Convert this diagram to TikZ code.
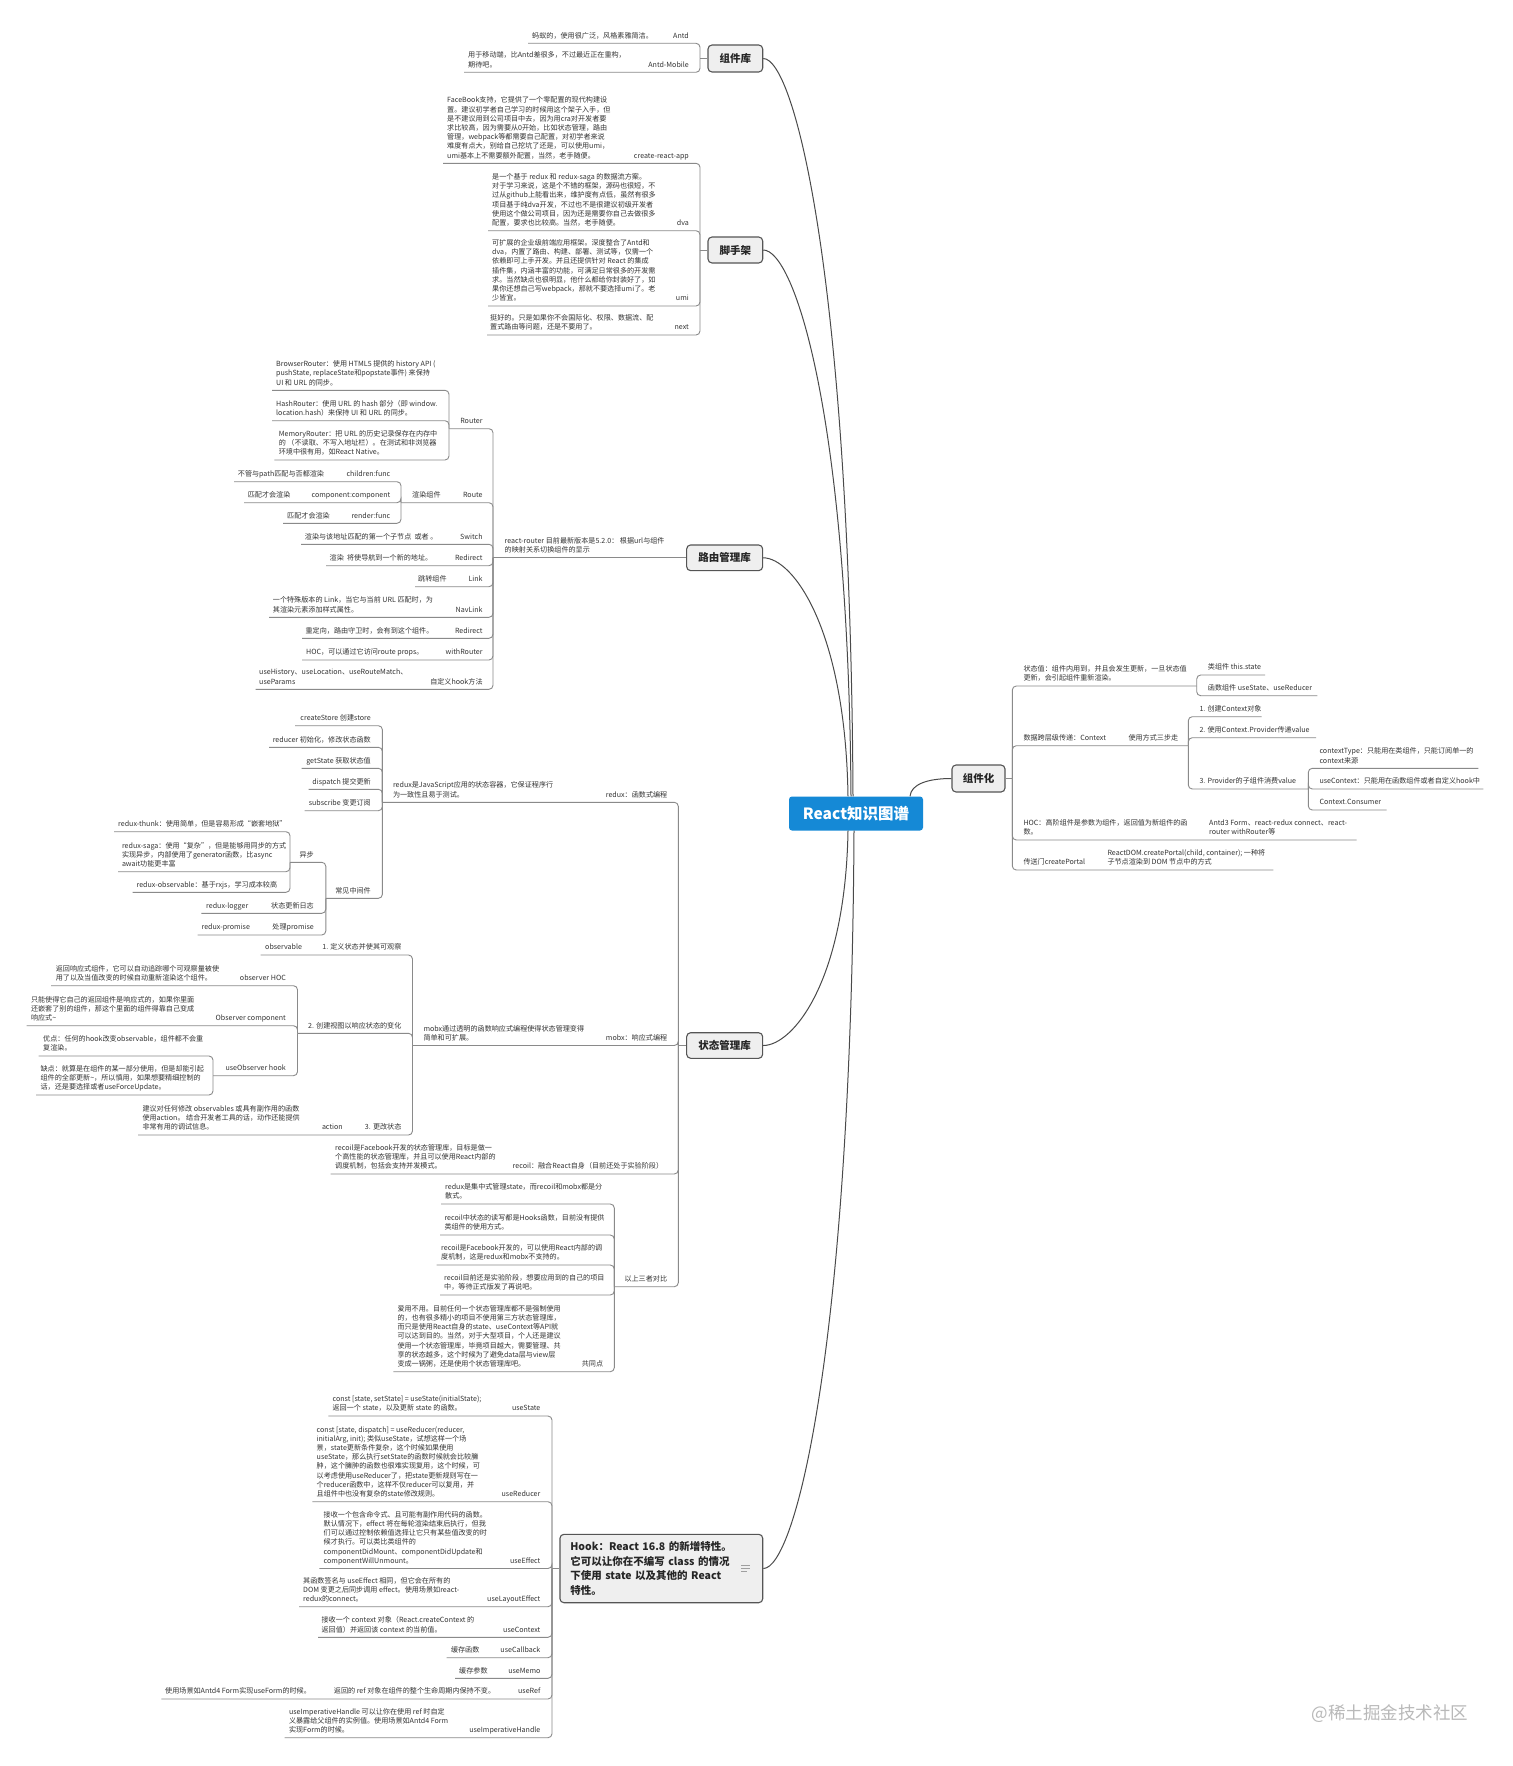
\documentclass[tikz,border=0pt]{standalone}
\usepackage{fontspec}
\setmainfont{Noto Sans CJK SC}
\definecolor{txt}{HTML}{333333}
\definecolor{ln}{HTML}{8A8A8A}
\definecolor{crv}{HTML}{4A4A4A}
\definecolor{boxfill}{HTML}{EFEFEF}
\definecolor{boxdraw}{HTML}{555555}
\definecolor{rootblue}{HTML}{1589D6}
\newcommand\mmkid[3]{\coordinate (#1) at (#2);\draw[conn] (#1) -| (#3);}
\begin{document}
\begin{tikzpicture}[x=1pt,y=-1pt,
 conn/.style={draw=ln, line width=0.9pt, rounded corners=4pt},
 curv/.style={draw=crv, line width=1pt},
 txtn/.style={inner xsep=0pt, inner ysep=2.3pt, text=txt, font=\fontsize{7.1pt}{9.2pt}\selectfont, align=left, execute at begin node=\strut, execute at end node=\strut},
 dl/.style={txtn, anchor=south west},
 dr/.style={txtn, anchor=south east},
 brbox/.style={draw=boxdraw, fill=boxfill, line width=1.1pt, rounded corners=4pt, font=\fontsize{10.5pt}{12pt}\selectfont\bfseries, text=black!85, inner sep=0pt},
]
\fill[white] (0,0) rectangle (1512,1766);
\useasboundingbox (0,0) rectangle (1512,1766);

% root and branch boxes
\node[fill=rootblue, rounded corners=3pt, minimum width=134pt, minimum height=34pt, inner sep=0pt, text=white, font=\fontsize{15.5pt}{18pt}\selectfont\bfseries] (root) at (856,813.5) {React知识图谱};
\node[brbox, minimum width=54.7pt, minimum height=27pt] (zjk) at (735.35,58.5) {组件库};
\node[brbox, minimum width=54.7pt, minimum height=26pt] (jsj) at (735.35,250) {脚手架};
\node[brbox, minimum width=76pt, minimum height=25.7pt] (lyg) at (724.65,557.8) {路由管理库};
\node[brbox, minimum width=76pt, minimum height=25.6pt] (ztg) at (724.65,1045.5) {状态管理库};
\node[brbox, minimum width=53pt, minimum height=27pt] (zjh) at (978.5,778.5) {组件化};
\node[brbox, text width=182pt, inner xsep=10.4pt, minimum height=68.4pt, align=left, font=\fontsize{10.5pt}{14.4pt}\selectfont\bfseries] (hook) at (661.35,1568.5) {Hook：React 16.8 的新增特性。\\它可以让你在不编写 class 的情况\\下使用 state 以及其他的 React\\特性。};
\draw[gray!75, line width=0.8pt] (741,1565.3) -- (750,1565.3) (741,1568.5) -- (750,1568.5) (741,1571.7) -- (747,1571.7);

% main curves
\draw[curv] ([xshift=-3pt]root.north) .. controls +(-2.7,-516.6) and +(31.6,0) .. (zjk.east);
\draw[curv] ([xshift=-5pt]root.north) .. controls +(-2.6,-382.6) and +(30.9,0) .. (jsj.east);
\draw[curv] ([xshift=-8pt]root.north) .. controls +(-2.6,-167.1) and +(29.9,0) .. (lyg.east);
\draw[curv] ([xshift=-8pt]root.south) .. controls +(-2.6,150.5) and +(29.8,0) .. (ztg.east);
\draw[curv] ([xshift=-2pt]root.south) .. controls +(-2.7,516.6) and +(32,0) .. (hook.east);
\draw[curv] ([xshift=54pt]root.north) .. controls +(1,-12) and +(-24,0) .. (zjh.west);

% ---------- 组件库 ----------
\coordinate (JA) at (700,58.5);
\draw[conn] (JA) -- (zjk.west);
\mmkid{a1}{528,43.3}{JA}
\mmkid{a2}{464,72.3}{JA}
\node[dl] (a1d) at (532,43.3) {蚂蚁的，使用很广泛，风格素雅简洁。};
\node[dr] (a1l) at (689,43.3) {Antd};
\node[dl] (a2d) at (468,72.3) {用于移动端，比Antd差很多，不过最近正在重构，\\期待吧。};
\node[dr] (a2l) at (689,72.3) {Antd-Mobile};

% ---------- 脚手架 ----------
\coordinate (JB) at (700,250);
\draw[conn] (JB) -- (jsj.west);
\mmkid{b1}{443,163.3}{JB}
\mmkid{b2}{488,230.7}{JB}
\mmkid{b3}{488,306}{JB}
\mmkid{b4}{487,335}{JB}
\node[dl] (b1d) at (447,163.3) {FaceBook支持，它提供了一个零配置的现代构建设\\置。建议初学者自己学习的时候用这个架子入手，但\\是不建议用到公司项目中去，因为用cra对开发者要\\求比较高，因为需要从0开始，比如状态管理，路由\\管理，webpack等都需要自己配置，对初学者来说\\难度有点大，别给自己挖坑了还是，可以使用umi，\\umi基本上不需要额外配置，当然，老手随便。};
\node[dr] (b1l) at (689,163.3) {create-react-app};
\node[dl] (b2d) at (492,230.7) {是一个基于 redux 和 redux-saga 的数据流方案。\\对于学习来说，这是个不错的框架，源码也很短，不\\过从github上能看出来，维护度有点低，虽然有很多\\项目基于纯dva开发，不过也不是很建议初级开发者\\使用这个做公司项目，因为还是需要你自己去做很多\\配置，要求也比较高。当然，老手随便。};
\node[dr] (b2l) at (689,230.7) {dva};
\node[dl] (b3d) at (492,306) {可扩展的企业级前端应用框架。深度整合了Antd和\\dva，内置了路由、构建、部署、测试等，仅需一个\\依赖即可上手开发。并且还提供针对 React 的集成\\插件集，内涵丰富的功能，可满足日常很多的开发需\\求。当然缺点也很明显，他什么都给你封装好了，如\\果你还想自己写webpack，那就不要选择umi了。老\\少皆宜。};
\node[dr] (b3l) at (689,306) {umi};
\node[dl] (b4d) at (490,335) {挺好的。只是如果你不会国际化、权限、数据流、配\\置式路由等问题，还是不要用了。};
\node[dr] (b4l) at (689,335) {next};

% ---------- 路由管理库 ----------
\coordinate (c0) at (493,557.8);
\draw[conn] (c0) -- (lyg.west);
\node[dl] (c0d) at (504.5,557.8) {react-router 目前最新版本是5.2.0： 根据url与组件\\的映射关系切换组件的显示};
\mmkid{c1}{449,428.7}{c0}
\mmkid{c2}{401,502.7}{c0}
\mmkid{c3}{301,544.3}{c0}
\mmkid{c4}{326,565.7}{c0}
\mmkid{c5}{415,586.7}{c0}
\mmkid{c6}{269,617.3}{c0}
\mmkid{c7}{302,638.3}{c0}
\mmkid{c8}{302,660}{c0}
\mmkid{c9}{255.5,689.3}{c0}
\mmkid{c1a}{272,390.3}{c1}
\mmkid{c1b}{272,420.7}{c1}
\mmkid{c1c}{274.4,460}{c1}
\mmkid{c2a}{234,481.7}{c2}
\mmkid{c2b}{244,502.7}{c2}
\mmkid{c2c}{283,523.3}{c2}
\node[dr] (c1l) at (482.8,428.7) {Router};
\node[dl] (c1ad) at (276,390.3) {BrowserRouter：使用 HTML5 提供的 history API (\\pushState, replaceState和popstate事件) 来保持\\UI 和 URL 的同步。};
\node[dl] (c1bd) at (276,420.7) {HashRouter：使用 URL 的 hash 部分（即 window.\\location.hash）来保持 UI 和 URL 的同步。};
\node[dl] (c1cd) at (278.6,460) {MemoryRouter：把 URL 的历史记录保存在内存中\\的 （不读取、不写入地址栏）。在测试和非浏览器\\环境中很有用，如React Native。};
\node[dl] (c2d) at (412,502.7) {渲染组件};
\node[dr] (c2l) at (482.8,502.7) {Route};
\node[dl] (c2ad) at (237.7,481.7) {不管与path匹配与否都渲染};
\node[dr] (c2al) at (390.5,481.7) {children:func};
\node[dl] (c2bd) at (247.6,502.7) {匹配才会渲染};
\node[dr] (c2bl) at (390.5,502.7) {component:component};
\node[dl] (c2cd) at (287,523.3) {匹配才会渲染};
\node[dr] (c2cl) at (390.5,523.3) {render:func};
\node[dl] (c3d) at (304.7,544.3) {渲染与该地址匹配的第一个子节点 \ 或者 。};
\node[dr] (c3l) at (482.8,544.3) {Switch};
\node[dl] (c4d) at (329.5,565.7) {渲染 \ 将使导航到一个新的地址。};
\node[dr] (c4l) at (482.8,565.7) {Redirect};
\node[dl] (c5d) at (418,586.7) {跳转组件};
\node[dr] (c5l) at (482.8,586.7) {Link};
\node[dl] (c6d) at (272.7,617.3) {一个特殊版本的 Link，当它与当前 URL 匹配时，为\\其渲染元素添加样式属性。};
\node[dr] (c6l) at (482.8,617.3) {NavLink};
\node[dl] (c7d) at (305.4,638.3) {重定向，路由守卫时，会有到这个组件。};
\node[dr] (c7l) at (482.8,638.3) {Redirect};
\node[dl] (c8d) at (306,660) {HOC，可以通过它访问route props。};
\node[dr] (c8l) at (482.8,660) {withRouter};
\node[dl] (c9d) at (259,689.3) {useHistory、useLocation、useRouteMatch、\\useParams};
\node[dr] (c9l) at (482.8,689.3) {自定义hook方法};

% ---------- 状态管理库 ----------
\coordinate (JD) at (678.3,1045.5);
\draw[conn] (JD) -- (ztg.west);
\mmkid{d1}{382.4,802.3}{JD}
\mmkid{d2}{412.5,1045.5}{JD}
\mmkid{d3}{330.7,1174}{JD}
\mmkid{d4}{614.3,1286.7}{JD}
\node[dl] (d1d) at (392.8,802.3) {redux是JavaScript应用的状态容器，它保证程序行\\为一致性且易于测试。};
\node[dr] (d1l) at (667.5,802.3) {redux：函数式编程};
\mmkid{d1a}{295,725.7}{d1}
\mmkid{d1b}{269,747.3}{d1}
\mmkid{d1c}{301.7,768.3}{d1}
\mmkid{d1d}{308.6,789.3}{d1}
\mmkid{d1e}{304.7,810.7}{d1}
\mmkid{d1f}{325.8,898.3}{d1}
\node[dr] (d1al) at (371,725.7) {createStore 创建store};
\node[dr] (d1bl) at (371,747.3) {reducer 初始化，修改状态函数};
\node[dr] (d1cl) at (371,768.3) {getState 获取状态值};
\node[dr] (d1dl) at (371,789.3) {dispatch 提交更新};
\node[dr] (d1el) at (371,810.7) {subscribe 变更订阅};
\node[dr] (d1fl) at (371,898.3) {常见中间件};
\mmkid{mw1}{290,862.3}{d1f}
\mmkid{mw2}{201.4,913.3}{d1f}
\mmkid{mw3}{197.6,935}{d1f}
\node[dr] (mw1l) at (314,862.3) {异步};
\node[dl] (mw2d) at (206,913.3) {redux-logger};
\node[dr] (mw2l) at (314,913.3) {状态更新日志};
\node[dl] (mw3d) at (201.4,935) {redux-promise};
\node[dr] (mw3l) at (314,935) {处理promise};
\mmkid{as1}{114,831.7}{mw1}
\mmkid{as2}{118,871.7}{mw1}
\mmkid{as3}{132.5,892.3}{mw1}
\node[dl] (as1d) at (118,831.7) {redux-thunk：使用简单，但是容易形成“嵌套地狱”};
\node[dl] (as2d) at (121.8,871.7) {redux-saga：使用“复杂”，但是能够用同步的方式\\实现异步，内部使用了generator函数，比async\\await功能更丰富};
\node[dl] (as3d) at (136.4,892.3) {redux-observable：基于rxjs，学习成本较高};

\node[dl] (d2d) at (423.3,1045.5) {mobx通过透明的函数响应式编程使得状态管理变得\\简单和可扩展。};
\node[dr] (d2l) at (667.4,1045.5) {mobx：响应式编程};
\mmkid{d2a}{260.7,955}{d2}
\mmkid{d2b}{297.5,1033.3}{d2}
\mmkid{d2c}{138,1135}{d2}
\node[dl] (d2ad) at (265,955) {observable};
\node[dr] (d2al) at (401.6,955) {1. 定义状态并使其可观察};
\node[dr] (d2bl) at (401.6,1033.3) {2. 创建视图以响应状态的变化};
\node[dl] (d2cd) at (142.3,1135) {建议对任何修改 observables 或具有副作用的函数\\使用action。 结合开发者工具的话，动作还能提供\\非常有用的调试信息。};
\node[dr] (d2cm) at (343,1135) {action};
\node[dr] (d2cl) at (401.6,1135) {3. 更改状态};
\mmkid{m1}{51.2,985.7}{d2b}
\mmkid{m2}{26.5,1025.7}{d2b}
\mmkid{m3}{213,1075.7}{d2b}
\node[dl] (m1d) at (55.6,985.7) {返回响应式组件，它可以自动追踪哪个可观察量被使\\用了以及当值改变的时候自动重新渲染这个组件。};
\node[dr] (m1l) at (286,985.7) {observer HOC};
\node[dl] (m2d) at (30.8,1025.7) {只能使得它自己的返回组件是响应式的，如果你里面\\还嵌套了别的组件，那这个里面的组件得靠自己变成\\响应式\textasciitilde};
\node[dr] (m2l) at (286,1025.7) {Observer component};
\node[dr] (m3l) at (286,1075.7) {useObserver hook};
\mmkid{m3a}{38.6,1056}{m3}
\mmkid{m3b}{36,1095}{m3}
\node[dl] (m3ad) at (43,1056) {优点：任何的hook改变observable，组件都不会重\\复渲染。};
\node[dl] (m3bd) at (40.4,1095) {缺点：就算是在组件的某一部分使用，但是却能引起\\组件的全部更新\textasciitilde，所以慎用，如果想要精细控制的\\话，还是要选择或者useForceUpdate。};

\node[dl] (d3d) at (335,1174) {recoil是Facebook开发的状态管理库，目标是做一\\个高性能的状态管理库，并且可以使用React内部的\\调度机制，包括会支持并发模式。};
\node[dr] (d3l) at (663.3,1174) {recoil：融合React自身（目前还处于实验阶段）};
\node[dr] (d4l) at (667.3,1286.7) {以上三者对比};
\mmkid{k1}{441,1204}{d4}
\mmkid{k2}{440,1235}{d4}
\mmkid{k3}{436.7,1265}{d4}
\mmkid{k4}{440,1295}{d4}
\mmkid{k5}{393.3,1371.7}{d4}
\node[dl] (k1d) at (445,1204) {redux是集中式管理state，而recoil和mobx都是分\\散式。};
\node[dl] (k2d) at (444.3,1235) {recoil中状态的读写都是Hooks函数，目前没有提供\\类组件的使用方式。};
\node[dl] (k3d) at (441,1265) {recoil是Facebook开发的，可以使用React内部的调\\度机制，这是redux和mobx不支持的。};
\node[dl] (k4d) at (444,1295) {recoil目前还是实验阶段，想要应用到的自己的项目\\中，等待正式版发了再说吧。};
\node[dl] (k5d) at (397.3,1371.7) {爱用不用。目前任何一个状态管理库都不是强制使用\\的，也有很多精小的项目不使用第三方状态管理库，\\而只是使用React自身的state、useContext等API就\\可以达到目的。当然，对于大型项目，个人还是建议\\使用一个状态管理库，毕竟项目越大，需要管理、共\\享的状态越多，这个时候为了避免data层与view层\\变成一锅粥，还是使用个状态管理库吧。};
\node[dr] (k5l) at (603.3,1371.7) {共同点};

% ---------- Hook ----------
\coordinate (JE) at (552,1568.5);
\draw[conn] (JE) -- (hook.west);
\mmkid{e1}{328.4,1416}{JE}
\mmkid{e2}{312.4,1501.7}{JE}
\mmkid{e3}{319.4,1568.5}{JE}
\mmkid{e4}{299,1606.7}{JE}
\mmkid{e5}{318,1637.3}{JE}
\mmkid{e6}{446.7,1657.7}{JE}
\mmkid{e7}{455,1678.3}{JE}
\mmkid{e8}{161.4,1699}{JE}
\mmkid{e9}{284.7,1737.7}{JE}
\node[dl] (e1d) at (332.4,1416) {const [state, setState] = useState(initialState);\\返回一个 state，以及更新 state 的函数。};
\node[dr] (e1l) at (540.6,1416) {useState};
\node[dl] (e2d) at (316.5,1501.7) {const [state, dispatch] = useReducer(reducer,\\initialArg, init); 类似useState，试想这样一个场\\景，state更新条件复杂，这个时候如果使用\\useState，那么执行setState的函数时候就会比较臃\\肿，这个臃肿的函数也很难实现复用，这个时候，可\\以考虑使用useReducer了，把state更新规则写在一\\个reducer函数中，这样不仅reducer可以复用，并\\且组件中也没有复杂的state修改规则。};
\node[dr] (e2l) at (540.6,1501.7) {useReducer};
\node[dl] (e3d) at (323.5,1568.5) {接收一个包含命令式、且可能有副作用代码的函数。\\默认情况下，effect 将在每轮渲染结束后执行，但我\\们可以通过控制依赖值选择让它只有某些值改变的时\\候才执行。可以类比类组件的\\componentDidMount、componentDidUpdate和\\componentWillUnmount。};
\node[dr] (e3l) at (540.6,1568.5) {useEffect};
\node[dl] (e4d) at (303,1606.7) {其函数签名与 useEffect 相同，但它会在所有的\\DOM 变更之后同步调用 effect。使用场景如react-\\redux的connect。};
\node[dr] (e4l) at (540.6,1606.7) {useLayoutEffect};
\node[dl] (e5d) at (321.4,1637.3) {接收一个 context 对象（React.createContext 的\\返回值）并返回该 context 的当前值。};
\node[dr] (e5l) at (540.6,1637.3) {useContext};
\node[dl] (e6d) at (450.8,1657.7) {缓存函数};
\node[dr] (e6l) at (540.6,1657.7) {useCallback};
\node[dl] (e7d) at (459,1678.3) {缓存参数};
\node[dr] (e7l) at (540.6,1678.3) {useMemo};
\node[dl] (e8a) at (165,1699) {使用场景如Antd4 Form实现useForm的时候。};
\node[dl] (e8d) at (333.7,1699) {返回的 ref 对象在组件的整个生命周期内保持不变。};
\node[dr] (e8l) at (540.6,1699) {useRef};
\node[dl] (e9d) at (288.8,1737.7) {useImperativeHandle 可以让你在使用 ref 时自定\\义暴露给父组件的实例值。使用场景如Antd4 Form\\实现Form的时候。};
\node[dr] (e9l) at (540.6,1737.7) {useImperativeHandle};

% ---------- 组件化 ----------
\coordinate (JF) at (1012.3,778.5);
\draw[conn] (zjh.east) -- (JF);
\mmkid{f1}{1196.7,686}{JF}
\mmkid{f2}{1188.3,745.7}{JF}
\mmkid{f3}{1356.7,840}{JF}
\mmkid{f4}{1273.3,870}{JF}
\mmkid{f1a}{1265,675}{f1}
\mmkid{f1b}{1317.3,695.7}{f1}
\mmkid{f2a}{1261.7,716.7}{f2}
\mmkid{f2b}{1316,737.7}{f2}
\mmkid{f2c}{1308.3,789}{f2}
\mmkid{g1}{1478.3,768.3}{f2c}
\mmkid{g2}{1483.3,789}{f2c}
\mmkid{g3}{1386.7,810}{f2c}
\node[dl] (f1d) at (1023.3,686) {状态值：组件内用到，并且会发生更新，一旦状态值\\更新，会引起组件重新渲染。};
\node[dl] (f1ad) at (1207.7,675) {类组件 this.state};
\node[dl] (f1bd) at (1207.7,695.7) {函数组件 useState、useReducer};
\node[dl] (f2d) at (1023.3,745.7) {数据跨层级传递：Context};
\node[dl] (f2m) at (1128.3,745.7) {使用方式三步走};
\node[dl] (f2ad) at (1199.3,716.7) {1. 创建Context对象};
\node[dl] (f2bd) at (1199.3,737.7) {2. 使用Context.Provider传递value};
\node[dl] (f2cd) at (1199.3,789) {3. Provider的子组件消费value};
\node[dl] (g1d) at (1319.3,768.3) {contextType：只能用在类组件，只能订阅单一的\\context来源};
\node[dl] (g2d) at (1319.3,789) {useContext：只能用在函数组件或者自定义hook中};
\node[dl] (g3d) at (1319.3,810) {Context.Consumer};
\node[dl] (f3d) at (1023.3,840) {HOC：高阶组件是参数为组件，返回值为新组件的函\\数。};
\node[dl] (f3m) at (1209,840) {Antd3 Form、react-redux connect、react-\\router withRouter等};
\node[dl] (f4d) at (1023.3,870) {传送门createPortal};
\node[dl] (f4m) at (1107.3,870) {ReactDOM.createPortal(child, container); 一种将\\子节点渲染到 DOM 节点中的方式};

% watermark
\node[text=gray!55, font=\fontsize{17.5pt}{20pt}\selectfont, inner sep=0pt] (wm) at (1390,1714) {@稀土掘金技术社区};
\end{tikzpicture}
\end{document}
